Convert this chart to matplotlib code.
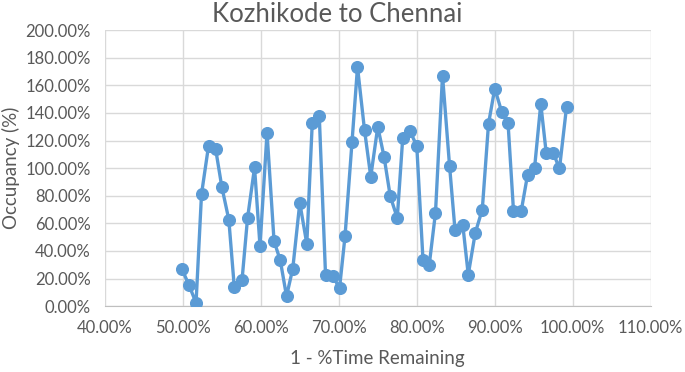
import matplotlib
matplotlib.use("Agg")
import matplotlib.pyplot as plt
from matplotlib.ticker import FuncFormatter, MultipleLocator

# 1 - %Time Remaining (in %)
time_used = [49.9, 50.8, 51.7, 52.4, 53.3, 54.2, 55.0, 55.9, 56.6, 57.6,
             58.3, 59.2, 59.9, 60.8, 61.7, 62.5, 63.3, 64.1, 65.0, 65.9,
             66.6, 67.5, 68.3, 69.2, 70.1, 70.8, 71.7, 72.4, 73.3, 74.1,
             75.0, 75.8, 76.6, 77.5, 78.2, 79.1, 80.0, 80.8, 81.6, 82.4,
             83.3, 84.2, 84.9, 85.9, 86.6, 87.5, 88.4, 89.2, 90.0, 90.9,
             91.7, 92.4, 93.4, 94.2, 95.1, 95.9, 96.6, 97.5, 98.3, 99.2]
# Occupancy (%)
occupancy = [26.7, 15.1, 2.4, 81.2, 116.1, 114.2, 86.5, 62.7, 13.9, 19.2,
             63.7, 100.5, 43.5, 125.7, 47.1, 33.2, 7.2, 27.2, 74.8, 45.2,
             132.9, 137.7, 22.8, 21.9, 13.2, 50.7, 119.2, 173.3, 127.6, 93.8,
             130.0, 108.4, 79.6, 63.9, 121.9, 127.2, 116.1, 33.2, 30.0, 67.8,
             167.1, 101.9, 55.3, 58.9, 22.8, 53.1, 70.0, 132.2, 157.7, 140.6,
             132.9, 69.2, 69.2, 95.0, 100.0, 146.6, 110.8, 110.8, 99.8, 144.2]

title = "Kozhikode to Chennai"
xlabel = "1 - %Time Remaining"
ylabel = "Occupancy (%)"

plt.rcParams['font.family'] = ['Lato', 'DejaVu Sans']
text_col = '#595959'

fig = plt.figure(figsize=(6.85, 3.72), dpi=100)
ax = fig.add_axes([0.153, 0.177, 0.797, 0.742])

ax.plot(time_used, occupancy, color='#5b9bd5', lw=2.4, marker='o',
        markersize=8.4, zorder=3)

ax.set_xlim(40, 110)
ax.set_ylim(0, 200)
ax.xaxis.set_major_locator(MultipleLocator(10))
ax.yaxis.set_major_locator(MultipleLocator(20))
pct = FuncFormatter(lambda v, p: f"{v:.2f}%")
ax.xaxis.set_major_formatter(pct)
ax.yaxis.set_major_formatter(pct)

ax.grid(True, color='#d9d9d9', lw=1)
ax.set_axisbelow(True)
for s in ['top', 'right', 'left']:
    ax.spines[s].set_visible(False)
ax.spines['bottom'].set_color('#bfbfbf')
ax.tick_params(length=0, labelsize=12, colors=text_col, pad=10)

fig.text(0.492, 0.962, title, fontsize=18.5, color=text_col,
         ha='center', va='center')
ax.set_xlabel(xlabel, fontsize=13.5, color=text_col, labelpad=10)
ax.set_ylabel(ylabel, fontsize=13.5, color=text_col, labelpad=4)

fig.savefig("out.png", dpi=100)
